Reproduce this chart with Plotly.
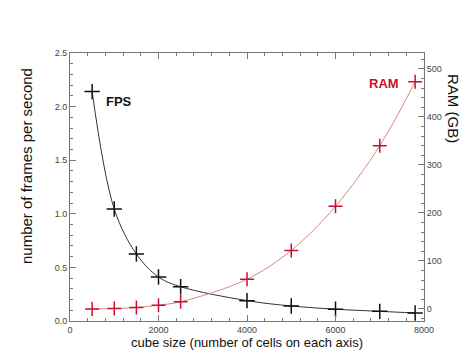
import plotly.graph_objects as go

cube_size = [500, 1000, 1500, 2000, 2500, 4000, 5000, 6000, 7000, 7800]
fps = [2.14, 1.045, 0.625, 0.41, 0.32, 0.19, 0.14, 0.11, 0.09, 0.075]
ram_gb = [0, 1, 3, 8, 15, 62, 122, 214, 340, 473]

x_ticks = [0, 2000, 4000, 6000, 8000]
fps_ticks = [0.0, 0.5, 1.0, 1.5, 2.0, 2.5]
ram_ticks = [0, 100, 200, 300, 400, 500]

font = "Liberation Sans, Arial, sans-serif"
tick_font = dict(family=font, size=9, color="#444")

W, H = 474, 355
ML, MR, MT, MB = 62, 58, 45, 42


def px_x(p):
    return (p - ML) / (W - ML - MR)


def px_y(p):
    return 1 - (p - MT) / (H - MT - MB)


fig = go.Figure()
fig.add_trace(go.Scatter(
    x=cube_size, y=fps, mode="lines+markers",
    line=dict(color="#333", width=1, shape="spline"),
    marker=dict(symbol="cross-thin", size=11, line=dict(color="#111", width=1.5)),
    yaxis="y", showlegend=False))
fig.add_trace(go.Scatter(
    x=cube_size, y=ram_gb, mode="lines+markers",
    line=dict(color="#d38a8a", width=1, shape="spline"),
    marker=dict(symbol="cross-thin", size=10, line=dict(color="#c8102e", width=1.5)),
    yaxis="y2", showlegend=False))

axis_common = dict(showline=True, linecolor="#777", linewidth=1, ticks="inside",
                   ticklen=6, tickcolor="#777", showgrid=False, zeroline=False,
                   tickfont=tick_font)

fig.update_layout(
    width=W, height=H,
    margin=dict(l=ML, r=MR, t=MT, b=MB),
    paper_bgcolor="white", plot_bgcolor="white",
    font=dict(family=font),
    xaxis=dict(range=[0, 8000], tickvals=x_ticks, ticktext=[str(v) for v in x_ticks],
               mirror="ticks",
               minor=dict(dtick=400, ticks="inside", ticklen=3, tickcolor="#777"),
               title=dict(text="cube size (number of cells on each axis)",
                          font=dict(family=font, size=13, color="#111"), standoff=4),
               **axis_common),
    yaxis=dict(range=[0, 2.5], tickvals=fps_ticks, ticktext=[f"{v:.1f}" for v in fps_ticks],
               minor=dict(dtick=0.1, ticks="inside", ticklen=3, tickcolor="#777"),
               **axis_common),
    yaxis2=dict(range=[-25, 533], tickvals=ram_ticks, ticktext=[str(v) for v in ram_ticks],
                overlaying="y", side="right",
                minor=dict(dtick=20, ticks="inside", ticklen=3, tickcolor="#777"),
                **axis_common),
    annotations=[
        dict(text="FPS", x=1115, y=2.05, xref="x", yref="y", showarrow=False,
             font=dict(family=font, size=13, color="#111", weight="bold")),
        dict(text="RAM", x=7095, y=469, xref="x", yref="y2", showarrow=False,
             font=dict(family=font, size=13, color="#c8102e", weight="bold")),
        dict(text="RAM (GB)", x=px_x(446), y=px_y(100), xref="paper", yref="paper",
             showarrow=False, textangle=90, xanchor="center", yanchor="middle",
             font=dict(family=font, size=15, color="#111")),
        dict(text="number of frames per second", x=px_x(18), y=px_y(158),
             xref="paper", yref="paper", showarrow=False, textangle=-90,
             xanchor="center", yanchor="middle",
             font=dict(family=font, size=15, color="#111")),
    ],
)
fig.write_html("out.html")
